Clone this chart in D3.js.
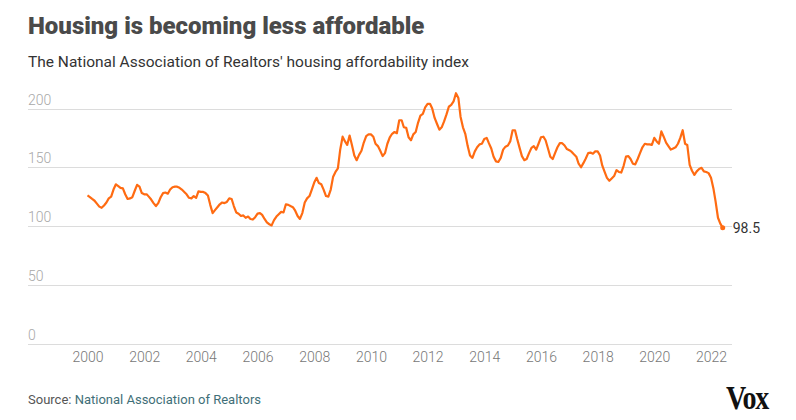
<!DOCTYPE html>
<html>
<head>
<meta charset="utf-8">
<script src="https://cdn.jsdelivr.net/npm/d3@7"></script>
<style>
  body { margin: 0; background: #fff; }
  svg text { font-family: "Roboto", "Liberation Sans", sans-serif; }
</style>
</head>
<body>
<div id="chart"></div>
<script>
// Monthly NAR housing affordability index, Jan 2000 - Jun 2022
var startMonth = new Date(2000, 0, 1);
var hai2000 = [126, 124.5, 123, 121.5, 119, 116.5, 115.5, 117.5, 120, 123.5, 125, 131];
var hai2001 = [135.5, 134, 132.5, 132, 127, 123, 123.5, 124.5, 130, 135, 133.5, 128];
var hai2002 = [127, 127, 125, 122.5, 119.5, 117, 119.5, 124.5, 128, 128.5, 127.5, 131];
var hai2003 = [133, 133.5, 133.5, 132.5, 131, 129, 127, 124, 123.5, 125.5, 124, 129.5];
var hai2004 = [129, 129, 128, 126, 118, 111, 113.5, 116, 118.5, 120, 119.5, 120.5];
var hai2005 = [123.5, 123, 117, 111.5, 110.5, 108.5, 109, 107, 108, 106, 105.5, 107.5];
var hai2006 = [110.5, 111, 109.5, 106, 103, 101.5, 100.5, 105, 108, 110, 112, 111.5];
var hai2007 = [118.5, 118, 117, 116, 113, 108.5, 106, 111, 120, 123.5, 125.5, 131];
var hai2008 = [137, 141, 136.5, 135.5, 131, 125.5, 125, 131, 142, 146, 149, 165];
var hai2009 = [176, 172, 169, 177, 169, 160, 156, 160.5, 164, 171, 176.5, 178];
var hai2010 = [178, 176, 170, 168, 164, 159.5, 162, 170, 175.5, 178.5, 180, 179];
var hai2011 = [190, 190, 184, 183.5, 175.5, 173, 178, 180, 188, 194, 195.5, 201];
var hai2012 = [204, 204, 200, 192, 187, 182, 184, 189, 195, 201.5, 203, 206];
var hai2013 = [213, 209, 193, 184, 178.5, 168, 160, 158, 163.5, 167, 169.5, 170];
var hai2014 = [174, 175, 170.5, 166, 159, 155, 154.5, 158, 165, 167.5, 168.5, 172];
var hai2015 = [181.5, 181.5, 174, 166.5, 159.5, 156, 157, 162, 166.5, 168, 165, 170];
var hai2016 = [175.5, 176, 173, 166, 159, 157, 162, 167, 170.5, 170.5, 168.5, 165.5];
var hai2017 = [164.5, 163, 161, 159, 153, 150, 153.5, 157.5, 162, 162.5, 161.5, 163.5];
var hai2018 = [163.5, 160, 151.5, 146, 141, 138.5, 140.5, 142.5, 147.5, 146, 145.5, 151];
var hai2019 = [159, 159.5, 157, 153, 152.5, 157, 162, 167, 170, 169.5, 169.5, 169];
var hai2020 = [175, 172, 170, 180.5, 176, 171, 168, 165, 166, 167, 170, 175];
var hai2021 = [181.5, 170, 169, 152, 147, 143.5, 146.5, 148.5, 149.5, 146.5, 146, 145];
var hai2022 = [141, 132, 121, 107, 102, 98.5];

var yTicks = [0, 50, 100, 150, 200];
var xTickYears = d3.range(2000, 2023, 2);

var hai = [].concat(hai2000, hai2001, hai2002, hai2003, hai2004, hai2005, hai2006,
  hai2007, hai2008, hai2009, hai2010, hai2011, hai2012, hai2013, hai2014, hai2015,
  hai2016, hai2017, hai2018, hai2019, hai2020, hai2021, hai2022);

var data = hai.map(function(v, i) {
  return { date: d3.timeMonth.offset(startMonth, i), value: v };
});
var last = data[data.length - 1];

var width = 796, height = 420;
var gridLeft = 28, gridRight = 732;

var svg = d3.select("#chart")
  .append("svg")
  .attr("width", width)
  .attr("height", height);

var x = d3.scaleTime()
  .domain([new Date(2000, 0, 1), new Date(2022, 0, 1)])
  .range([87.5, 711]);

var y = d3.scaleLinear()
  .domain([0, 200])
  .range([343.5, 108.5]);

// Title and subtitle
svg.append("text")
  .attr("x", 28)
  .attr("y", 34)
  .attr("font-size", 24)
  .attr("font-weight", 900)
  .attr("fill", "#4a4a4a")
  .text("Housing is becoming less affordable");

svg.append("text")
  .attr("x", 28)
  .attr("y", 67)
  .attr("font-size", 15.5)
  .attr("fill", "#333")
  .text("The National Association of Realtors' housing affordability index");

// Gridlines and y labels
svg.selectAll("line.grid")
  .data(yTicks)
  .enter()
  .append("line")
  .attr("class", "grid")
  .attr("x1", gridLeft)
  .attr("x2", gridRight)
  .attr("y1", function(d) { return Math.round(y(d)) + 0.5; })
  .attr("y2", function(d) { return Math.round(y(d)) + 0.5; })
  .style("stroke", "#dcdcdc")
  .style("stroke-width", "1px");

svg.selectAll("text.ytick")
  .data(yTicks)
  .enter()
  .append("text")
  .attr("class", "ytick")
  .attr("x", gridLeft)
  .attr("y", function(d) { return y(d) - 4; })
  .attr("font-size", 14)
  .attr("font-weight", 300)
  .attr("fill", "#a8a8a8")
  .text(function(d) { return d; });

// X axis labels
var xAxis = d3.axisBottom(x)
  .tickValues(xTickYears.map(function(yr) { return new Date(yr, 0, 1); }))
  .tickFormat(d3.timeFormat("%Y"))
  .tickSize(0)
  .tickPadding(0);

var gx = svg.append("g")
  .attr("transform", "translate(0,352)")
  .call(xAxis);
gx.select(".domain").remove();
gx.selectAll("text")
  .attr("font-size", 14)
  .attr("font-weight", 300)
  .attr("fill", "#777");

// The line
var line = d3.line()
  .x(function(d) { return x(d.date); })
  .y(function(d) { return y(d.value); });

svg.append("path")
  .datum(data)
  .attr("d", line)
  .style("fill", "none")
  .style("stroke", "#ff6b12")
  .style("stroke-width", "2.2px")
  .style("stroke-linejoin", "round");

svg.append("circle")
  .attr("cx", x(last.date))
  .attr("cy", y(last.value))
  .attr("r", 2.5)
  .style("fill", "#ff6b12");

svg.append("text")
  .attr("x", x(last.date) + 10)
  .attr("y", y(last.value) + 5)
  .attr("font-size", 14)
  .attr("fill", "#333")
  .text(d3.format(".1f")(last.value));

// Source line
var src = svg.append("text")
  .attr("x", 28)
  .attr("y", 404)
  .attr("font-size", 13)
  .attr("fill", "#555");
src.append("tspan").text("Source: ");
src.append("tspan").attr("fill", "#3f6f78").text("National Association of Realtors");

// Vox wordmark
svg.append("text")
  .attr("transform", "translate(768,409) scale(0.85,1)")
  .attr("text-anchor", "end")
  .style("font-family", "'Liberation Serif', 'DejaVu Serif', serif")
  .style("font-weight", "bold")
  .style("font-size", "33px")
  .attr("letter-spacing", -1.5)
  .attr("fill", "#111")
  .text("Vox");
</script>
</body>
</html>
